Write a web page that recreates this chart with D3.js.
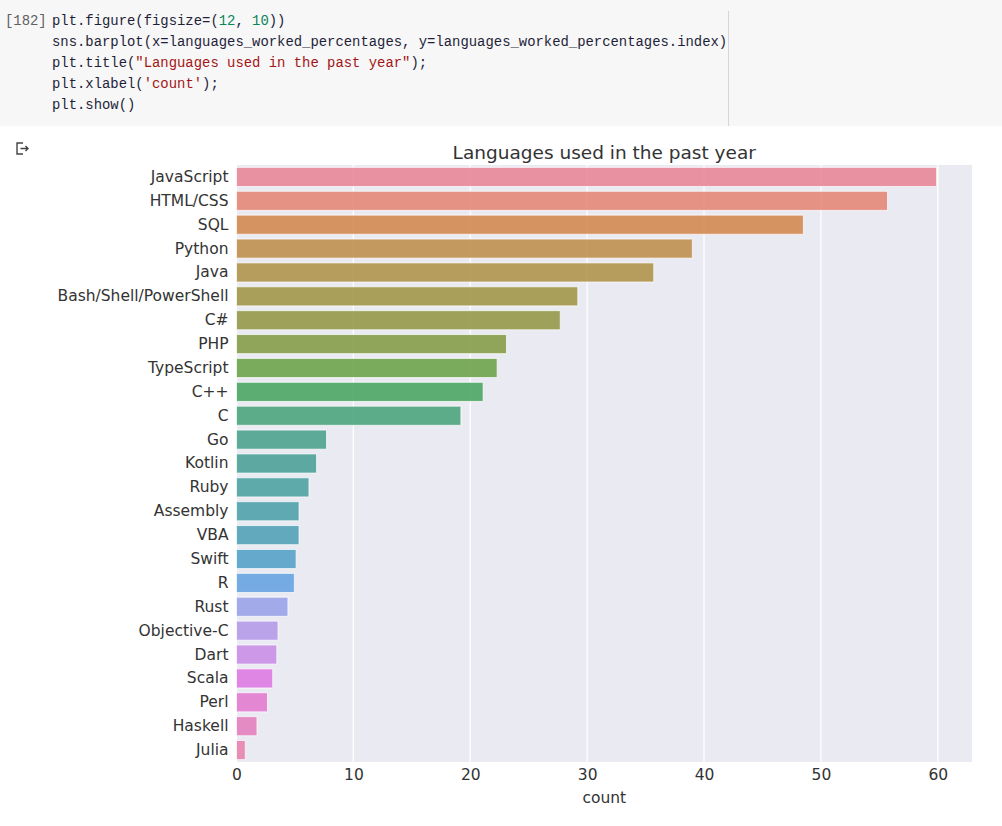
<!DOCTYPE html>
<html>
<head>
<meta charset="utf-8">
<script src="https://cdn.jsdelivr.net/npm/d3@7"></script>
<style>
  html, body { margin: 0; padding: 0; background: #ffffff; }
  svg { display: block; }
</style>
</head>
<body>
<svg id="chart" width="1002" height="826"></svg>
<script>
// ---- data ----
const languages = ["JavaScript","HTML/CSS","SQL","Python","Java","Bash/Shell/PowerShell","C#","PHP","TypeScript","C++","C","Go","Kotlin","Ruby","Assembly","VBA","Swift","R","Rust","Objective-C","Dart","Scala","Perl","Haskell","Julia"];
const percentages = [59.9,55.7,48.5,39.0,35.7,29.2,27.7,23.1,22.3,21.1,19.2,7.7,6.85,6.2,5.35,5.35,5.1,4.95,4.4,3.55,3.45,3.1,2.65,1.75,0.75];
const xTicks = [0,10,20,30,40,50,60];
const codeLines = [
  [["plt.figure(figsize=(", "c"],["12","n"],[", ","c"],["10","n"],["))","c"]],
  [["sns.barplot(x=languages_worked_percentages, y=languages_worked_percentages.index)","c"]],
  [["plt.title(","c"],["\"Languages used in the past year\"","s"],[");","c"]],
  [["plt.xlabel(","c"],["'count'","s"],[");","c"]],
  [["plt.show()","c"]]
];

// ---- seaborn husl palette ----
const M = [[3.2406,-1.5372,-0.4986],[-0.9689,1.8758,0.0415],[0.0557,-0.2040,1.0570]];
const refU = 0.19784, refV = 0.46834, labE = 0.008856, labK = 903.3;
function maxChroma(L, H) {
  const hr = H * Math.PI / 180, sH = Math.sin(hr), cH = Math.cos(hr);
  const sub1 = Math.pow(L + 16, 3) / 1560896.0;
  const sub2 = sub1 > labE ? sub1 : L / labK;
  let res = Infinity;
  for (const [m1,m2,m3] of M) {
    const top = (0.99915*m1 + 1.05122*m2 + 1.14460*m3) * sub2;
    const rb = 0.86330*m3 - 0.17266*m2;
    const lb = 0.12949*m3 - 0.38848*m1;
    const bottom = (rb*sH + lb*cH) * sub2;
    for (const t of [0,1]) {
      const C = L * (top - 1.05122*t) / (bottom + 0.17266*sH*t);
      if (C > 0 && C < res) res = C;
    }
  }
  return res;
}
function fInv(t) { return Math.pow(t,3) > labE ? Math.pow(t,3) : (116*t - 16)/labK; }
function fromLinear(c) { return c <= 0.0031308 ? 12.92*c : 1.055*Math.pow(c, 1/2.4) - 0.055; }
function huslToRgb(h, s, l) {
  const C = maxChroma(l, h) / 100 * s;
  const hr = h * Math.PI / 180;
  const U = Math.cos(hr)*C, V = Math.sin(hr)*C;
  const varY = fInv((l + 16)/116);
  const varU = U/(13*l) + refU, varV = V/(13*l) + refV;
  const Y = varY;
  const X = 0 - (9*Y*varU)/((varU - 4)*varV - varU*varV);
  const Z = (9*Y - 15*varV*Y - varV*X)/(3*varV);
  return M.map(r => Math.min(1, Math.max(0, fromLinear(r[0]*X + r[1]*Y + r[2]*Z))));
}
function huslPalette(n) {
  const out = [];
  for (let i = 0; i < n; i++) {
    const hue = ((i / n) + 0.01) % 1 * 359;
    const rgb = huslToRgb(hue, 0.9*99, 0.65*99);
    const c = d3.hsl(d3.rgb(rgb[0]*255, rgb[1]*255, rgb[2]*255));
    c.s *= 0.75;
    out.push(c.formatHex());
  }
  return out;
}
const palette = huslPalette(languages.length);

// ---- layout ----
const svg = d3.select("#chart");

// code cell
svg.append("rect").attr("x",0).attr("y",0).attr("width",1002).attr("height",126).attr("fill","#f7f7f7");
svg.append("line").attr("x1",728.5).attr("x2",728.5).attr("y1",11).attr("y2",126).attr("stroke","#d6d6d6").attr("stroke-width",1);
svg.append("text").attr("x",5).attr("y",25).attr("font-family","Liberation Mono, monospace").attr("font-size",13.9)
  .attr("fill","#616161").text("[182]");
const codeColors = {c:"#1f1f3a", n:"#098658", s:"#a31515"};
codeLines.forEach((line, i) => {
  const t = svg.append("text").attr("x",52).attr("y",25 + i*21)
    .attr("font-family","Liberation Mono, monospace").attr("font-size",13.9).attr("xml:space","preserve");
  line.forEach(([txt, k]) => t.append("tspan").attr("fill", codeColors[k]).text(txt));
});

// output icon
const icon = svg.append("g").attr("transform","translate(16,140)").attr("fill","none").attr("stroke","#444").attr("stroke-width",1.4);
icon.append("path").attr("d","M7,3 H1 V14 H7");
icon.append("path").attr("d","M4.5,8.5 H12 M9.5,6 L12,8.5 L9.5,11");

// chart
const plot = {left: 236.5, right: 972, top: 165, bottom: 762};
const x = d3.scaleLinear().domain([0, 62.93]).range([plot.left, plot.right]);
const y = d3.scaleBand().domain(languages).range([plot.top, plot.bottom]).paddingInner(0.2).paddingOuter(0.1);

svg.append("rect").attr("x",plot.left).attr("y",plot.top).attr("width",plot.right-plot.left).attr("height",plot.bottom-plot.top).attr("fill","#eaeaf2");

svg.append("g").selectAll("line").data(xTicks).join("line")
  .attr("x1", d => x(d)).attr("x2", d => x(d)).attr("y1", plot.top).attr("y2", plot.bottom)
  .attr("stroke","#ffffff").attr("stroke-width",1.3);

svg.append("g").selectAll("rect").data(languages).join("rect")
  .attr("x", x(0)).attr("y", d => y(d))
  .attr("width", (d,i) => x(percentages[i]) - x(0))
  .attr("height", y.bandwidth())
  .attr("fill", (d,i) => palette[i]).attr("fill-opacity", 0.85)
  .attr("stroke","#ffffff").attr("stroke-opacity",0.7).attr("stroke-width",1);

// axes
const xAxis = svg.append("g").attr("transform",`translate(0,${plot.bottom})`)
  .call(d3.axisBottom(x).tickValues(xTicks).tickSize(0).tickPadding(7).tickFormat(d3.format("d")));
xAxis.select(".domain").remove();
xAxis.selectAll("text").attr("font-family","DejaVu Sans, sans-serif").attr("font-size",15.5).attr("fill","#333333");

const yAxis = svg.append("g").attr("transform",`translate(${plot.left},0)`)
  .call(d3.axisLeft(y).tickSize(0).tickPadding(8));
yAxis.select(".domain").remove();
yAxis.selectAll("text").attr("font-family","DejaVu Sans, sans-serif").attr("font-size",15.5).attr("fill","#333333");

svg.append("text").attr("x",(plot.left+plot.right)/2).attr("y",803).attr("text-anchor","middle")
  .attr("font-family","DejaVu Sans, sans-serif").attr("font-size",15.5).attr("fill","#333333").text("count");

svg.append("text").attr("x",(plot.left+plot.right)/2).attr("y",159).attr("text-anchor","middle")
  .attr("font-family","DejaVu Sans, sans-serif").attr("font-size",18.5).attr("fill","#333333").text("Languages used in the past year");
</script>
</body>
</html>
